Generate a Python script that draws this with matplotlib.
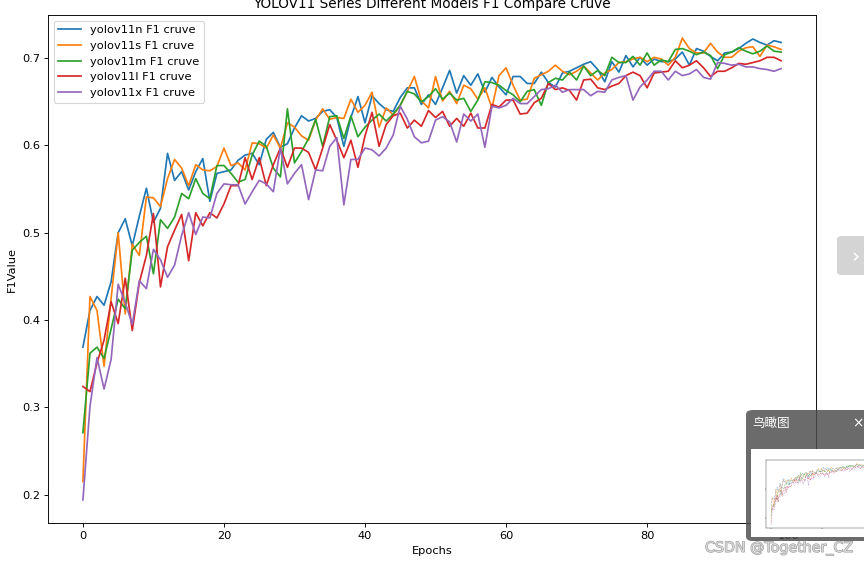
import matplotlib
matplotlib.use('Agg')
import matplotlib.pyplot as plt
import matplotlib.patches as mpatches
import matplotlib.patheffects as pe
import numpy as np

# F1 values, epochs 0..99
f1_n = [0.369, 0.411, 0.427, 0.417, 0.444, 0.500, 0.516, 0.485, 0.519, 0.551,
        0.512, 0.528, 0.591, 0.560, 0.570, 0.549, 0.570, 0.585, 0.536, 0.568,
        0.570, 0.572, 0.583, 0.589, 0.591, 0.578, 0.607, 0.615, 0.598, 0.602,
        0.620, 0.634, 0.628, 0.631, 0.639, 0.641, 0.632, 0.599, 0.632, 0.656,
        0.626, 0.657, 0.648, 0.641, 0.639, 0.655, 0.666, 0.666, 0.647, 0.658,
        0.647, 0.666, 0.686, 0.660, 0.680, 0.669, 0.682, 0.661, 0.678, 0.667,
        0.658, 0.679, 0.679, 0.671, 0.671, 0.684, 0.672, 0.667, 0.683, 0.685,
        0.689, 0.693, 0.696, 0.687, 0.673, 0.696, 0.684, 0.703, 0.690, 0.701,
        0.692, 0.699, 0.696, 0.696, 0.699, 0.707, 0.692, 0.711, 0.708, 0.702,
        0.697, 0.706, 0.707, 0.711, 0.717, 0.722, 0.718, 0.715, 0.720, 0.718]
f1_s = [0.215, 0.427, 0.411, 0.347, 0.425, 0.500, 0.407, 0.487, 0.474, 0.541,
        0.540, 0.530, 0.562, 0.584, 0.574, 0.554, 0.578, 0.572, 0.571, 0.576,
        0.597, 0.577, 0.580, 0.572, 0.603, 0.602, 0.597, 0.612, 0.597, 0.626,
        0.621, 0.611, 0.606, 0.629, 0.642, 0.630, 0.632, 0.631, 0.653, 0.638,
        0.646, 0.661, 0.621, 0.643, 0.635, 0.646, 0.662, 0.679, 0.651, 0.643,
        0.679, 0.651, 0.662, 0.648, 0.669, 0.665, 0.653, 0.666, 0.643, 0.680,
        0.689, 0.669, 0.652, 0.653, 0.677, 0.681, 0.685, 0.692, 0.685, 0.681,
        0.685, 0.691, 0.683, 0.675, 0.683, 0.687, 0.695, 0.696, 0.699, 0.701,
        0.696, 0.701, 0.699, 0.692, 0.701, 0.723, 0.711, 0.706, 0.706, 0.717,
        0.707, 0.701, 0.701, 0.708, 0.712, 0.713, 0.702, 0.715, 0.713, 0.710]
f1_m = [0.271, 0.362, 0.369, 0.356, 0.390, 0.424, 0.413, 0.480, 0.489, 0.496,
        0.453, 0.515, 0.505, 0.518, 0.545, 0.539, 0.562, 0.545, 0.539, 0.577,
        0.577, 0.568, 0.558, 0.561, 0.589, 0.605, 0.599, 0.574, 0.564, 0.642,
        0.580, 0.593, 0.608, 0.630, 0.599, 0.633, 0.634, 0.608, 0.634, 0.610,
        0.621, 0.629, 0.636, 0.628, 0.636, 0.646, 0.662, 0.659, 0.650, 0.656,
        0.665, 0.653, 0.660, 0.652, 0.654, 0.639, 0.652, 0.673, 0.672, 0.669,
        0.663, 0.658, 0.650, 0.662, 0.664, 0.646, 0.672, 0.677, 0.675, 0.684,
        0.675, 0.691, 0.680, 0.686, 0.680, 0.701, 0.695, 0.695, 0.702, 0.692,
        0.706, 0.692, 0.698, 0.696, 0.710, 0.711, 0.708, 0.704, 0.707, 0.703,
        0.688, 0.704, 0.707, 0.712, 0.708, 0.705, 0.708, 0.714, 0.708, 0.707]
f1_l = [0.324, 0.318, 0.351, 0.377, 0.421, 0.396, 0.448, 0.388, 0.443, 0.474,
        0.522, 0.438, 0.484, 0.503, 0.521, 0.468, 0.523, 0.508, 0.523, 0.517,
        0.533, 0.554, 0.554, 0.586, 0.561, 0.586, 0.554, 0.578, 0.597, 0.575,
        0.597, 0.597, 0.592, 0.572, 0.597, 0.624, 0.606, 0.586, 0.606, 0.575,
        0.611, 0.638, 0.599, 0.624, 0.634, 0.637, 0.620, 0.629, 0.622, 0.640,
        0.632, 0.639, 0.622, 0.631, 0.622, 0.637, 0.620, 0.620, 0.647, 0.644,
        0.652, 0.652, 0.636, 0.637, 0.649, 0.654, 0.671, 0.664, 0.666, 0.663,
        0.652, 0.675, 0.676, 0.666, 0.664, 0.668, 0.671, 0.680, 0.684, 0.680,
        0.666, 0.683, 0.684, 0.685, 0.697, 0.689, 0.692, 0.697, 0.689, 0.679,
        0.685, 0.685, 0.689, 0.694, 0.693, 0.695, 0.697, 0.701, 0.701, 0.697]
f1_x = [0.194, 0.301, 0.357, 0.321, 0.355, 0.441, 0.420, 0.395, 0.445, 0.436,
        0.481, 0.469, 0.449, 0.463, 0.497, 0.523, 0.498, 0.518, 0.517, 0.545,
        0.556, 0.555, 0.555, 0.533, 0.547, 0.560, 0.556, 0.547, 0.597, 0.556,
        0.568, 0.578, 0.538, 0.572, 0.571, 0.599, 0.609, 0.532, 0.584, 0.584,
        0.597, 0.595, 0.588, 0.597, 0.612, 0.645, 0.630, 0.610, 0.603, 0.605,
        0.629, 0.633, 0.627, 0.604, 0.636, 0.628, 0.636, 0.598, 0.645, 0.643,
        0.646, 0.654, 0.648, 0.648, 0.656, 0.664, 0.665, 0.669, 0.661, 0.664,
        0.664, 0.664, 0.657, 0.662, 0.661, 0.675, 0.678, 0.680, 0.652, 0.667,
        0.675, 0.685, 0.685, 0.675, 0.685, 0.680, 0.682, 0.687, 0.678, 0.676,
        0.695, 0.694, 0.692, 0.693, 0.690, 0.690, 0.688, 0.687, 0.685, 0.688]

labels = ['yolov11n F1 cruve', 'yolov11s F1 cruve', 'yolov11m F1 cruve',
          'yolov11l F1 cruve', 'yolov11x F1 cruve']
series = [f1_n, f1_s, f1_m, f1_l, f1_x]
epochs = np.arange(len(f1_n))

# the screenshot is a downscaled matplotlib figure, so render at a lower dpi
W, H, DPI = 864, 562, 82
fig = plt.figure(figsize=(W / DPI, H / DPI), dpi=DPI)
fig.subplots_adjust(left=48 / W, right=816 / W, bottom=1 - 523 / H, top=1 - 15 / H)
ax = fig.add_subplot(111)

for vals, lab in zip(series, labels):
    ax.plot(epochs, vals, label=lab)

ax.set_title('YOLOV11 Series Different Models F1 Compare Cruve')
ax.set_xlabel('Epochs')
ax.set_ylabel('F1Value')
ax.legend(loc='upper left')


def fx(x):
    return x / W


def fy(y):
    return 1 - y / H


# page overlays seen in the screenshot: side button, bird's-eye panel, watermark
btn = mpatches.FancyBboxPatch((fx(837), fy(275)), fx(40), 39 / H,
                              boxstyle='round,pad=0,rounding_size=0.006',
                              transform=fig.transFigure, facecolor='#d4d4d4',
                              edgecolor='none', zorder=5)
fig.patches.append(btn)
fig.text(fx(855), fy(256), '›', color='white', fontsize=18,
         ha='center', va='center', zorder=6)

panel = mpatches.FancyBboxPatch((fx(746), fy(541)), fx(130), 131 / H,
                                boxstyle='round,pad=0,rounding_size=0.008',
                                transform=fig.transFigure, facecolor='#4a4a4a',
                                alpha=0.82, edgecolor='none', zorder=5)
fig.patches.append(panel)
fig.text(fx(752), fy(423), '鸟瞰图', color='white', fontsize=11,
         family=['Noto Sans CJK SC', 'DejaVu Sans'], va='center', zorder=6)
fig.text(fx(852), fy(423), '×', color='white', fontsize=12, va='center', zorder=6)

thumb = mpatches.Rectangle((fx(751), fy(537)), fx(120), 88 / H,
                           transform=fig.transFigure, facecolor='white',
                           edgecolor='none', zorder=6)
fig.patches.append(thumb)
mini = fig.add_axes([fx(766), fy(528), fx(110), 68 / H], zorder=7)
for vals in series:
    mini.plot(epochs, vals, lw=0.5, ls=':')
mini.tick_params(labelbottom=False, labelleft=False, length=1, width=0.3)
for sp in mini.spines.values():
    sp.set_linewidth(0.3)

fig.text(fx(705), fy(548), 'CSDN @Together_CZ', color='#d8d8d8', fontsize=12.5,
         va='center', zorder=8,
         path_effects=[pe.withStroke(linewidth=1, foreground='#9a9a9a')])

fig.savefig('out.png', dpi=DPI)
